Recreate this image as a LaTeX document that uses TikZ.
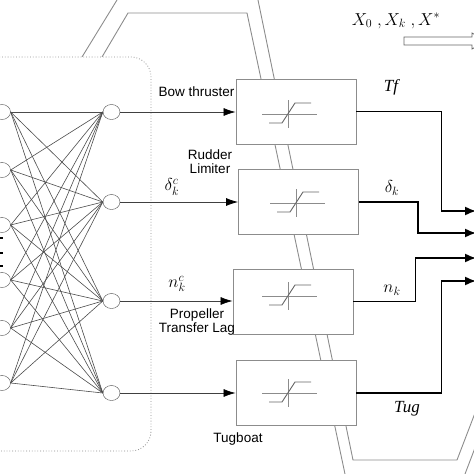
\documentclass[tikz,border=0pt]{standalone}
\usepackage{fontspec}
\setmainfont{Liberation Serif}
\setsansfont{Liberation Sans}
\usetikzlibrary{arrows.meta}
\usetikzlibrary{shapes.geometric}

\tikzset{satcurve/.pic={
	\draw[black!45] (-26,0) -- (29,0) (0,-14) -- (0,14);
	\draw[black!60,line width=0.9pt] (-19,9) -- (-6,9) -- (7,-11) -- (23,-11);
}}

\begin{document}
\begin{tikzpicture}[x=1pt,y=-1pt,
		band/.style={draw=black!45,line width=0.9pt},
		lab/.style={font=\sffamily\fontsize{13.5}{14}\selectfont,align=center,inner sep=0pt},
		sig/.style={font=\fontsize{17}{19}\selectfont,inner sep=0pt}]
	\useasboundingbox (0,0) rectangle (474,474);
	
	% band behind the limiters
	\draw[band] (117,0) -- (82,57);
	\draw[band] (102,57) -- (128,13) -- (247,13) -- (345,474);
	\draw[band] (258,0) -- (353,460) -- (457,460) -- (480,400);
	\draw[band] (465,474) -- (478,440);
	
	% network frame
	\draw[black!45,dotted,thick,rounded corners=20pt,fill=white] (-20,57) rectangle (151,451);
	
	\begin{scope}[every node/.style={ellipse,draw=black!70,fill=white,
				minimum width=17pt,minimum height=15pt,inner sep=0pt}]
		\node (I1) at (2,112) {};
		\node (I2) at (2,170) {};
		\node (I3) at (2,225) {};
		\node (I4) at (2,280) {};
		\node (I5) at (2,328) {};
		\node (I6) at (2,383) {};
		\node (H1) at (111.5,112) {};
		\node (H2) at (111.5,202) {};
		\node (H3) at (111.5,301) {};
		\node (H4) at (111.5,393) {};
	\end{scope}
	\foreach \i in {1,...,6}
		\foreach \j in {1,...,4}
			\draw[black!70,line width=0.6pt] (I\i.east) -- (H\j.west);
	\fill (0,236.5) rectangle (3,239);
	\fill (0,251.5) rectangle (3,254);
	\fill (0,264.5) rectangle (3,267);
	
	% limiters
	\begin{scope}[every node/.style={draw=black!45,fill=white,line width=0.9pt,
				minimum width=120pt,minimum height=65pt,inner sep=0pt}]
		\node (B1) at (296,111.5) {};
		\node (B2) at (298.5,202) {};
		\node (B3) at (293,301.5) {};
		\node (B4) at (296,393) {};
	\end{scope}
	\pic at (288,114) {satcurve};
	\pic at (296,203) {satcurve};
	\pic at (288,296) {satcurve};
	\pic at (288,393) {satcurve};
	
	\begin{scope}[every path/.style={draw=black!75,line width=0.7pt,
				-{Latex[length=12pt,width=8pt,color=black]}}]
		\path (H1.east) -- (H1.east -| B1.west);
		\path (H2.east) -- (H2.east -| B2.west);
		\path (H3.east) -- (H3.east -| B3.west);
		\path (H4.east) -- (H4.east -| B4.west);
	\end{scope}
	
	\coordinate (O1) at (476,211);
	\coordinate (O2) at (476,233);
	\coordinate (O3) at (476,258);
	\coordinate (O4) at (476,281);
	\begin{scope}[every path/.style={draw=black,line width=1.5pt,
				-{Latex[length=11pt,width=9pt]}}]
		\path (B1.east) -- ++(85,0) |- (O1);
		\path (B2.east) -- ++(59,0) |- (O2);
		\path (B3.east) -- ++(62,0) |- (O3);
		\path (B4.east) -- ++(85,0) |- (O4);
	\end{scope}
	
	% state arrow
	\draw[black!60,line width=0.8pt] (404,37) -- (472,37) -- (472,33) -- (486,41)
		-- (472,49) -- (472,45) -- (404,45) -- cycle;
	\node[sig] (X) at (396,21) {$X_{0}\;,X_{k}\;,X^{*}$};
	
	% labels
	\node[lab] (bow) at (196.5,92) {Bow thruster};
	\node[lab] (rud) at (210,162) {Rudder\\Limiter};
	\node[lab] (pro) at (197,322) {Propeller\\Transfer Lag};
	\node[lab] (tug) at (238,439) {Tugboat};
	\node[sig] (dc) at (172,187) {$\delta_k^c$};
	\node[sig] (nc) at (177,284) {$n_k^c$};
	\node[sig] (tf) at (391,87) {\itshape Tf};
	\node[sig] (dk) at (392,188) {$\delta_k$};
	\node[sig] (nk) at (392,290) {$n_k$};
	\node[sig] (tg) at (407,409) {\itshape Tug};
\end{tikzpicture}
\end{document}
